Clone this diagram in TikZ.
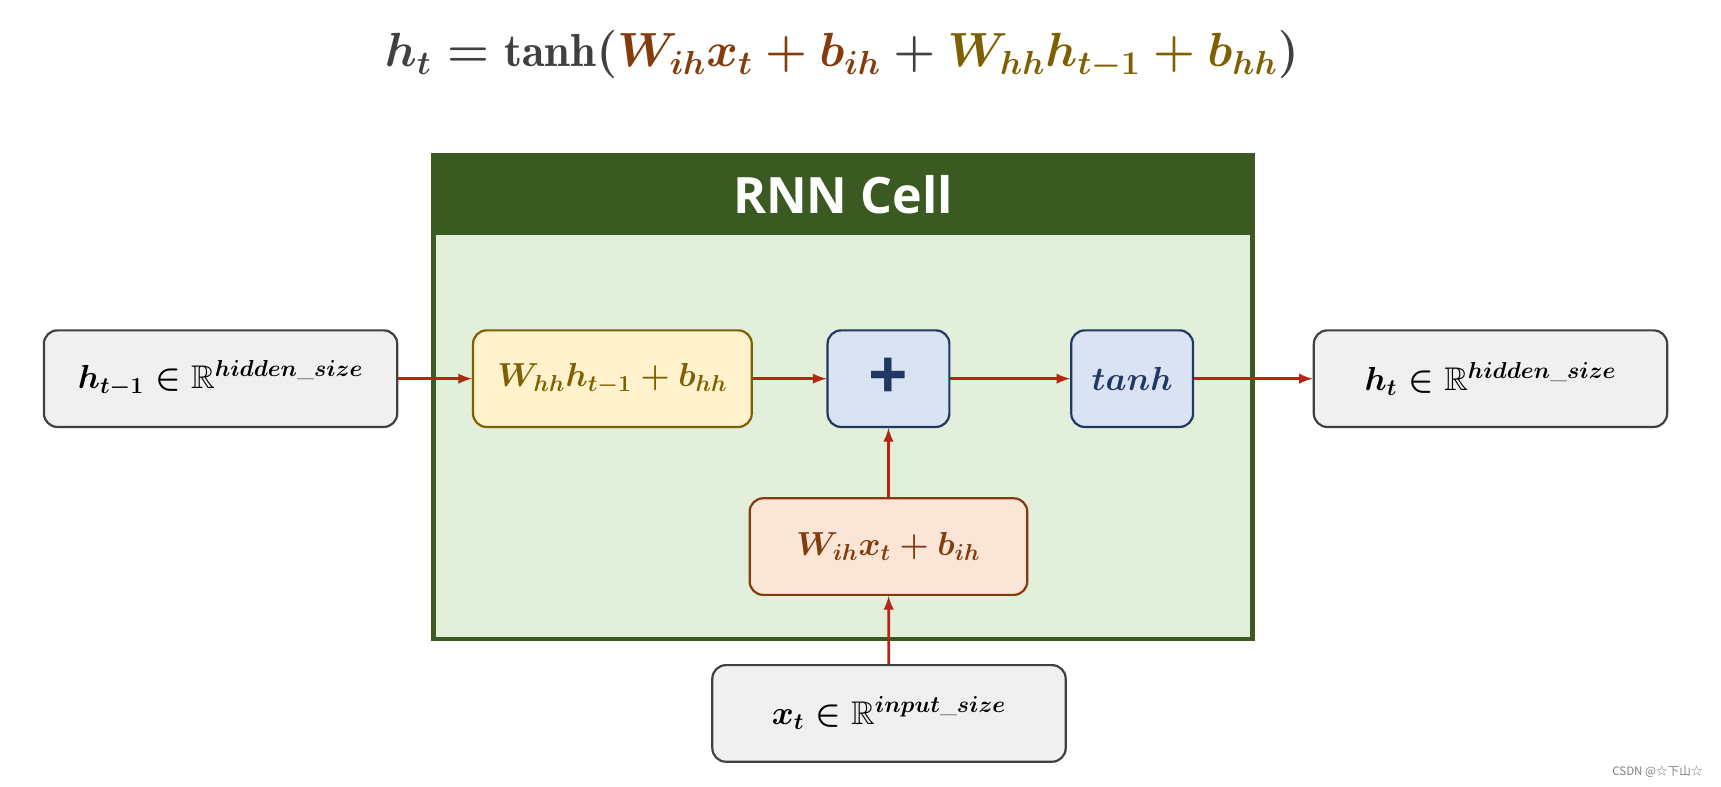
\documentclass[tikz,border=0pt]{standalone}
\usepackage{amsmath}
\usepackage{amssymb}
\usepackage{fontspec}
\newfontfamily\titlefont{Open Sans}
\newfontfamily\cjkfont{Noto Sans CJK SC}
\definecolor{cellDark}{HTML}{3B5A22}
\definecolor{cellLight}{HTML}{E2EFDA}
\definecolor{greyFill}{HTML}{F0F0F0}
\definecolor{greyLine}{HTML}{404040}
\definecolor{yellowFill}{HTML}{FFF2CC}
\definecolor{yellowLine}{HTML}{7F6000}
\definecolor{blueFill}{HTML}{DAE3F3}
\definecolor{blueLine}{HTML}{1F3864}
\definecolor{orangeFill}{HTML}{FBE5D6}
\definecolor{orangeLine}{HTML}{843C0C}
\definecolor{arrowRed}{HTML}{B4260F}
\definecolor{textGrey}{HTML}{404040}

\begin{document}
\begin{tikzpicture}
[x=0.02cm, y=-0.02cm,
 lineDecorate/.style={-latex,line width=0.5mm,draw=arrowRed},
 nodeDecorate/.style={shape=rectangle,rounded corners=7pt,line width=0.4mm,anchor=north west,inner sep=0pt,
   font=\fontsize{17}{20}\selectfont\boldmath},
 greyBox/.style={nodeDecorate,fill=greyFill,draw=greyLine,minimum width=6.44cm,minimum height=1.76cm},
 yellowBox/.style={nodeDecorate,fill=yellowFill,draw=yellowLine,text=yellowLine},
 blueBox/.style={nodeDecorate,fill=blueFill,draw=blueLine,text=blueLine,minimum width=2.22cm,minimum height=1.76cm},
 orangeBox/.style={nodeDecorate,fill=orangeFill,draw=orangeLine,text=orangeLine,minimum width=5.06cm,minimum height=1.76cm}]

\useasboundingbox (0,0) rectangle (1568,717);

% formula
\node[font=\fontsize{24}{28}\selectfont\boldmath, text=textGrey] (formula) at (767,50)
  {$h_t = \tanh(\textcolor{orangeLine}{W_{ih}x_t + b_{ih}} + \textcolor{yellowLine}{W_{hh}h_{t-1} + b_{hh}})$};

% cell
\draw[cellDark, line width=0.8mm, fill=cellLight] (395,141) rectangle (1141,582);
\fill[cellDark] (395,141) rectangle (1141,214);
\node[font=\titlefont\bfseries\fontsize{26}{30}\selectfont, text=white] (title) at (768,177) {RNN Cell};

% boxes
\node (hprev) at (39,300) [greyBox] {$h_{t-1}\in\mathbb{R}^{hidden\_size}$};
\node (whh) at (430,300) [yellowBox,minimum width=5.08cm,minimum height=1.76cm] {$W_{hh}h_{t-1}+b_{hh}$};
\node (plus) at (753,300) [blueBox,font=\titlefont\bfseries\fontsize{36}{36}\selectfont] {+};
\node (tanh) at (975,300) [blueBox] {$tanh$};
\node (hnext) at (1196,300) [greyBox] {$h_t\in\mathbb{R}^{hidden\_size}$};
\node (wih) at (682,453) [orangeBox] {$W_{ih}x_t+b_{ih}$};
\node (xt) at (648,605) [greyBox] {$x_t\in\mathbb{R}^{input\_size}$};

\path
\foreach \startnode/\endnode in {hprev/whh,whh/plus,plus/tanh,tanh/hnext}
        {
          (\startnode) edge[lineDecorate] (\endnode)
        }
(xt) edge[lineDecorate] (wih)
(wih) edge[lineDecorate] (plus);

\node[font=\cjkfont\fontsize{6}{7}\selectfont, text=gray] (mark) at (1510,703) {CSDN @☆下山☆};
\end{tikzpicture}
\end{document}
